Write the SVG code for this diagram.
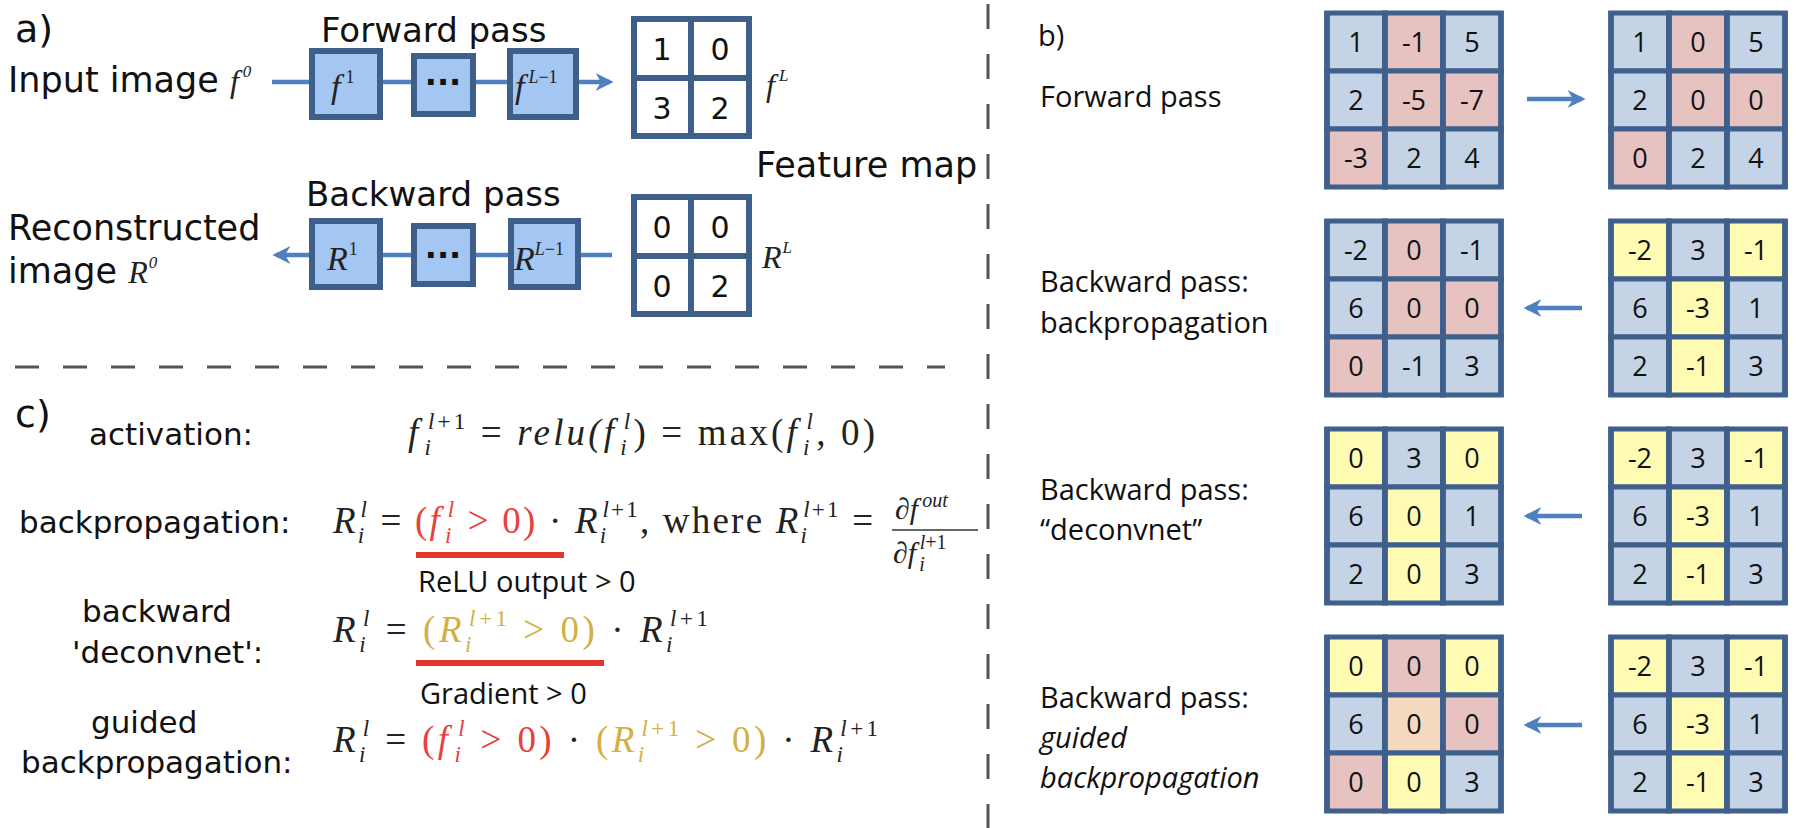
<svg xmlns="http://www.w3.org/2000/svg" width="1796" height="828" viewBox="0 0 1796 828">
<style>
.lbl{font-family:"DejaVu Sans",sans-serif;fill:#111}
.bl{font-family:"Open Sans","Liberation Sans",sans-serif;fill:#111;font-size:29px}
.m{font-family:"Liberation Serif",serif;font-style:italic;fill:#222}
.mr{font-family:"Liberation Serif",serif;font-style:normal}
.box{fill:#a3c6f3;stroke:#3e5f8a;stroke-width:6}
.grid{fill:#fff;stroke:#3e5f8a;stroke-width:6}
.num{font-family:"DejaVu Sans",sans-serif;font-size:30px;text-anchor:middle;fill:#111}
.cb{fill:#c4d4e6}.cr{fill:#e6c2c1}.cy{fill:#fffbb3}.co{fill:#f5d8c0}
.cell{stroke:#3f5f8c;stroke-width:5}
.cn{font-family:"Open Sans","Liberation Sans",sans-serif;font-size:27px;text-anchor:middle;fill:#111}
.conn{stroke:#4f7fbf;stroke-width:4.5;fill:none}
.dash{stroke:#555;stroke-width:3;fill:none}
.red{fill:#e8403a}.gold{fill:#d2b043}
</style>
<defs>
<marker id="ah" viewBox="0 0 10 10" refX="8" refY="5" markerWidth="4" markerHeight="4" orient="auto-start-reverse"><path d="M0,0 L10,5 L0,10 L3,5 Z" fill="#4f7fbf"/></marker>
</defs>
<g id="dividers">
<line class="dash" x1="15" y1="367" x2="945" y2="367" stroke-dasharray="24,24"/>
<line class="dash" x1="988" y1="4" x2="988" y2="828" stroke-dasharray="25,25"/>
</g>
<g id="connectors">
<line class="conn" x1="272" y1="82" x2="610" y2="82" marker-end="url(#ah)"/>
<line class="conn" x1="276" y1="255" x2="612" y2="255" marker-start="url(#ah)"/>
<line class="conn" x1="1527" y1="99" x2="1582" y2="99" marker-end="url(#ah)"/>
<line class="conn" x1="1527" y1="308" x2="1582" y2="308" marker-start="url(#ah)"/>
<line class="conn" x1="1527" y1="516" x2="1582" y2="516" marker-start="url(#ah)"/>
<line class="conn" x1="1527" y1="725" x2="1582" y2="725" marker-start="url(#ah)"/>
</g>
<g id="panel-a">
<text class="lbl" x="15" y="42" font-size="38">a)</text>
<text class="lbl" x="321" y="42" font-size="34">Forward pass</text>
<text class="lbl" x="8" y="92" font-size="35">Input image <tspan class="m" font-size="32">f</tspan><tspan class="m" font-size="17" dx="4" dy="-15">0</tspan></text>
<g id="f1"><rect class="box" x="312" y="51" width="68" height="66"/><text class="m" x="331" y="98" font-size="34">f<tspan font-size="18" dx="5" dy="-15" class="mr">1</tspan></text></g>
<g id="fdots"><rect class="box" x="414" y="56" width="59" height="58"/><text class="lbl" x="443" y="93" font-size="32" text-anchor="middle" font-weight="bold">···</text></g>
<g id="fL1"><rect class="box" x="510" y="51" width="66" height="66"/><text class="m" x="515" y="98" font-size="34">f<tspan font-size="18" dx="4" dy="-15">L</tspan><tspan class="mr" font-size="18">−1</tspan></text></g>
<g id="fL"><rect class="grid" x="634" y="19" width="115" height="117"/><line class="grid" x1="691" y1="19" x2="691" y2="136"/><line class="grid" x1="634" y1="78" x2="749" y2="78"/>
<text class="num" x="662" y="60">1</text><text class="num" x="720" y="60">0</text><text class="num" x="662" y="119">3</text><text class="num" x="720" y="119">2</text></g>
<text class="m" x="766" y="96" font-size="32">f<tspan font-size="17" dx="4" dy="-15">L</tspan></text>
<text class="lbl" x="756" y="177" font-size="35">Feature map</text>
<text class="lbl" x="306" y="206" font-size="34">Backward pass</text>
<text class="lbl" x="8" y="240" font-size="35">Reconstructed</text>
<text class="lbl" x="8" y="283" font-size="35">image <tspan class="m" font-size="32">R</tspan><tspan class="m" font-size="17" dx="1" dy="-15">0</tspan></text>
<g id="R1"><rect class="box" x="312" y="221" width="68" height="66"/><text class="m" x="327" y="270" font-size="34">R<tspan font-size="18" dx="1" dy="-15" class="mr">1</tspan></text></g>
<g id="Rdots"><rect class="box" x="414" y="226" width="59" height="58"/><text class="lbl" x="443" y="266" font-size="32" text-anchor="middle" font-weight="bold">···</text></g>
<g id="RL1"><rect class="box" x="511" y="221" width="67" height="66"/><text class="m" x="514" y="270" font-size="34">R<tspan font-size="18" dy="-15">L</tspan><tspan class="mr" font-size="18">−1</tspan></text></g>
<g id="RL"><rect class="grid" x="634" y="197" width="115" height="117"/><line class="grid" x1="691" y1="197" x2="691" y2="314"/><line class="grid" x1="634" y1="256" x2="749" y2="256"/>
<text class="num" x="662" y="238">0</text><text class="num" x="720" y="238">0</text><text class="num" x="662" y="297">0</text><text class="num" x="720" y="297">2</text></g>
<text class="m" x="762" y="268" font-size="32">R<tspan font-size="17" dx="1" dy="-15">L</tspan></text>
</g>
<g id="panel-c">
<text class="lbl" x="15" y="427" font-size="38">c)</text>
<text class="lbl" x="89" y="445" font-size="31">activation:</text>
<text class="m" x="408" y="445" font-size="37" textLength="467" lengthAdjust="spacing">f<tspan font-size="23" dx="3" dy="10">i</tspan><tspan font-size="23" dx="-6" dy="-26">l</tspan><tspan class="mr" font-size="23">+1</tspan><tspan class="mr" dy="16"> = </tspan>relu(f<tspan font-size="23" dx="3" dy="10">i</tspan><tspan font-size="23" dx="-6" dy="-26">l</tspan><tspan class="mr" dy="16">) = max(</tspan>f<tspan font-size="23" dx="3" dy="10">i</tspan><tspan font-size="23" dx="-6" dy="-26">l</tspan><tspan class="mr" dy="16">, 0)</tspan></text>
<text class="lbl" x="19" y="533" font-size="31">backpropagation:</text>
<text class="m" x="333" y="533" font-size="37" textLength="540" lengthAdjust="spacing">R<tspan font-size="23" dy="10">i</tspan><tspan font-size="23" dx="-6" dy="-26">l</tspan><tspan class="mr" dy="16"> = </tspan><tspan class="red"><tspan class="mr">(</tspan>f<tspan font-size="23" dx="3" dy="10">i</tspan><tspan font-size="23" dx="-6" dy="-26">l</tspan><tspan class="mr" dy="16"> &gt; 0)</tspan></tspan><tspan class="mr"> · </tspan>R<tspan font-size="23" dy="10">i</tspan><tspan font-size="23" dx="-6" dy="-26">l</tspan><tspan class="mr" font-size="23">+1</tspan><tspan class="mr" dy="16">, where </tspan>R<tspan font-size="23" dy="10">i</tspan><tspan font-size="23" dx="-6" dy="-26">l</tspan><tspan class="mr" font-size="23">+1</tspan><tspan class="mr" dy="16"> =</tspan></text>
<text class="m" x="895" y="519" font-size="30">∂f<tspan font-size="20" dx="4" dy="-12">out</tspan></text>
<line x1="892" y1="530" x2="978" y2="530" stroke="#333" stroke-width="1.6"/>
<text class="m" x="893" y="563" font-size="30">∂f<tspan font-size="20" dx="3" dy="8">i</tspan><tspan font-size="20" dx="-5" dy="-22">l</tspan><tspan class="mr" font-size="20">+1</tspan></text>
<rect x="416" y="552" width="148" height="6" fill="#e4362a"/>
<text class="bl" x="418" y="592" font-size="36">ReLU output &gt; 0</text>
<text class="lbl" x="82" y="622" font-size="31">backward</text>
<text class="lbl" x="72" y="663" font-size="31">'deconvnet':</text>
<text class="m" x="333" y="642" font-size="37" textLength="375" lengthAdjust="spacing">R<tspan font-size="23" dy="10">i</tspan><tspan font-size="23" dx="-6" dy="-26">l</tspan><tspan class="mr" dy="16"> = </tspan><tspan class="gold"><tspan class="mr">(</tspan>R<tspan font-size="23" dy="10">i</tspan><tspan font-size="23" dx="-6" dy="-26">l</tspan><tspan class="mr" font-size="23">+1</tspan><tspan class="mr" dy="16"> &gt; 0)</tspan></tspan><tspan class="mr"> · </tspan>R<tspan font-size="23" dy="10">i</tspan><tspan font-size="23" dx="-6" dy="-26">l</tspan><tspan class="mr" font-size="23">+1</tspan></text>
<rect x="416" y="660" width="188" height="6" fill="#e4362a"/>
<text class="bl" x="420" y="704" font-size="36">Gradient &gt; 0</text>
<text class="lbl" x="91" y="733" font-size="31">guided</text>
<text class="lbl" x="21" y="773" font-size="31">backpropagation:</text>
<text class="m" x="333" y="752" font-size="37" textLength="545" lengthAdjust="spacing">R<tspan font-size="23" dy="10">i</tspan><tspan font-size="23" dx="-6" dy="-26">l</tspan><tspan class="mr" dy="16"> = </tspan><tspan class="red"><tspan class="mr">(</tspan>f<tspan font-size="23" dx="3" dy="10">i</tspan><tspan font-size="23" dx="-6" dy="-26">l</tspan><tspan class="mr" dy="16"> &gt; 0)</tspan></tspan><tspan class="mr"> · </tspan><tspan class="gold"><tspan class="mr">(</tspan>R<tspan font-size="23" dy="10">i</tspan><tspan font-size="23" dx="-6" dy="-26">l</tspan><tspan class="mr" font-size="23">+1</tspan><tspan class="mr" dy="16"> &gt; 0)</tspan></tspan><tspan class="mr"> · </tspan>R<tspan font-size="23" dy="10">i</tspan><tspan font-size="23" dx="-6" dy="-26">l</tspan><tspan class="mr" font-size="23">+1</tspan></text>
</g>
<g id="panel-b">
<text class="bl" x="1038" y="46" font-size="35">b)</text>
<text class="bl" x="1040" y="107">Forward pass</text>
<text class="bl" x="1040" y="292">Backward pass:</text>
<text class="bl" x="1040" y="333">backpropagation</text>
<text class="bl" x="1040" y="500">Backward pass:</text>
<text class="bl" x="1040" y="540">“deconvnet”</text>
<text class="bl" x="1040" y="708">Backward pass:</text>
<text class="bl" x="1040" y="748" font-style="italic">guided</text>
<text class="bl" x="1040" y="788" font-style="italic">backpropagation</text>
</g>
<g id="grid-fwd-in" transform="translate(1327,13) scale(1.16,1)">
<rect class="cell cb" x="0" y="0" width="50" height="58"/><rect class="cell cr" x="50" y="0" width="50" height="58"/><rect class="cell cb" x="100" y="0" width="50" height="58"/>
<rect class="cell cb" x="0" y="58" width="50" height="58"/><rect class="cell cr" x="50" y="58" width="50" height="58"/><rect class="cell cr" x="100" y="58" width="50" height="58"/>
<rect class="cell cr" x="0" y="116" width="50" height="58"/><rect class="cell cb" x="50" y="116" width="50" height="58"/><rect class="cell cb" x="100" y="116" width="50" height="58"/>
</g>
<g id="grid-fwd-in-t" transform="translate(1327,13)">
<text class="cn" x="29" y="39">1</text><text class="cn" x="87" y="39">-1</text><text class="cn" x="145" y="39">5</text>
<text class="cn" x="29" y="97">2</text><text class="cn" x="87" y="97">-5</text><text class="cn" x="145" y="97">-7</text>
<text class="cn" x="29" y="155">-3</text><text class="cn" x="87" y="155">2</text><text class="cn" x="145" y="155">4</text>
</g>
<g id="grid-fwd-out" transform="translate(1611,13) scale(1.16,1)">
<rect class="cell cb" x="0" y="0" width="50" height="58"/><rect class="cell cr" x="50" y="0" width="50" height="58"/><rect class="cell cb" x="100" y="0" width="50" height="58"/>
<rect class="cell cb" x="0" y="58" width="50" height="58"/><rect class="cell cr" x="50" y="58" width="50" height="58"/><rect class="cell cr" x="100" y="58" width="50" height="58"/>
<rect class="cell cr" x="0" y="116" width="50" height="58"/><rect class="cell cb" x="50" y="116" width="50" height="58"/><rect class="cell cb" x="100" y="116" width="50" height="58"/>
</g>
<g id="grid-fwd-out-t" transform="translate(1611,13)">
<text class="cn" x="29" y="39">1</text><text class="cn" x="87" y="39">0</text><text class="cn" x="145" y="39">5</text>
<text class="cn" x="29" y="97">2</text><text class="cn" x="87" y="97">0</text><text class="cn" x="145" y="97">0</text>
<text class="cn" x="29" y="155">0</text><text class="cn" x="87" y="155">2</text><text class="cn" x="145" y="155">4</text>
</g>
<g id="grid-bp-out" transform="translate(1327,221) scale(1.16,1)">
<rect class="cell cb" x="0" y="0" width="50" height="58"/><rect class="cell cr" x="50" y="0" width="50" height="58"/><rect class="cell cb" x="100" y="0" width="50" height="58"/>
<rect class="cell cb" x="0" y="58" width="50" height="58"/><rect class="cell cr" x="50" y="58" width="50" height="58"/><rect class="cell cr" x="100" y="58" width="50" height="58"/>
<rect class="cell cr" x="0" y="116" width="50" height="58"/><rect class="cell cb" x="50" y="116" width="50" height="58"/><rect class="cell cb" x="100" y="116" width="50" height="58"/>
</g>
<g id="grid-bp-out-t" transform="translate(1327,221)">
<text class="cn" x="29" y="39">-2</text><text class="cn" x="87" y="39">0</text><text class="cn" x="145" y="39">-1</text>
<text class="cn" x="29" y="97">6</text><text class="cn" x="87" y="97">0</text><text class="cn" x="145" y="97">0</text>
<text class="cn" x="29" y="155">0</text><text class="cn" x="87" y="155">-1</text><text class="cn" x="145" y="155">3</text>
</g>
<g id="grid-bp-in" transform="translate(1611,221) scale(1.16,1)">
<rect class="cell cy" x="0" y="0" width="50" height="58"/><rect class="cell cb" x="50" y="0" width="50" height="58"/><rect class="cell cy" x="100" y="0" width="50" height="58"/>
<rect class="cell cb" x="0" y="58" width="50" height="58"/><rect class="cell cy" x="50" y="58" width="50" height="58"/><rect class="cell cb" x="100" y="58" width="50" height="58"/>
<rect class="cell cb" x="0" y="116" width="50" height="58"/><rect class="cell cy" x="50" y="116" width="50" height="58"/><rect class="cell cb" x="100" y="116" width="50" height="58"/>
</g>
<g id="grid-bp-in-t" transform="translate(1611,221)">
<text class="cn" x="29" y="39">-2</text><text class="cn" x="87" y="39">3</text><text class="cn" x="145" y="39">-1</text>
<text class="cn" x="29" y="97">6</text><text class="cn" x="87" y="97">-3</text><text class="cn" x="145" y="97">1</text>
<text class="cn" x="29" y="155">2</text><text class="cn" x="87" y="155">-1</text><text class="cn" x="145" y="155">3</text>
</g>
<g id="grid-dc-out" transform="translate(1327,429) scale(1.16,1)">
<rect class="cell cy" x="0" y="0" width="50" height="58"/><rect class="cell cb" x="50" y="0" width="50" height="58"/><rect class="cell cy" x="100" y="0" width="50" height="58"/>
<rect class="cell cb" x="0" y="58" width="50" height="58"/><rect class="cell cy" x="50" y="58" width="50" height="58"/><rect class="cell cb" x="100" y="58" width="50" height="58"/>
<rect class="cell cb" x="0" y="116" width="50" height="58"/><rect class="cell cy" x="50" y="116" width="50" height="58"/><rect class="cell cb" x="100" y="116" width="50" height="58"/>
</g>
<g id="grid-dc-out-t" transform="translate(1327,429)">
<text class="cn" x="29" y="39">0</text><text class="cn" x="87" y="39">3</text><text class="cn" x="145" y="39">0</text>
<text class="cn" x="29" y="97">6</text><text class="cn" x="87" y="97">0</text><text class="cn" x="145" y="97">1</text>
<text class="cn" x="29" y="155">2</text><text class="cn" x="87" y="155">0</text><text class="cn" x="145" y="155">3</text>
</g>
<g id="grid-dc-in" transform="translate(1611,429) scale(1.16,1)">
<rect class="cell cy" x="0" y="0" width="50" height="58"/><rect class="cell cb" x="50" y="0" width="50" height="58"/><rect class="cell cy" x="100" y="0" width="50" height="58"/>
<rect class="cell cb" x="0" y="58" width="50" height="58"/><rect class="cell cy" x="50" y="58" width="50" height="58"/><rect class="cell cb" x="100" y="58" width="50" height="58"/>
<rect class="cell cb" x="0" y="116" width="50" height="58"/><rect class="cell cy" x="50" y="116" width="50" height="58"/><rect class="cell cb" x="100" y="116" width="50" height="58"/>
</g>
<g id="grid-dc-in-t" transform="translate(1611,429)">
<text class="cn" x="29" y="39">-2</text><text class="cn" x="87" y="39">3</text><text class="cn" x="145" y="39">-1</text>
<text class="cn" x="29" y="97">6</text><text class="cn" x="87" y="97">-3</text><text class="cn" x="145" y="97">1</text>
<text class="cn" x="29" y="155">2</text><text class="cn" x="87" y="155">-1</text><text class="cn" x="145" y="155">3</text>
</g>
<g id="grid-gb-out" transform="translate(1327,637) scale(1.16,1)">
<rect class="cell cy" x="0" y="0" width="50" height="58"/><rect class="cell cr" x="50" y="0" width="50" height="58"/><rect class="cell cy" x="100" y="0" width="50" height="58"/>
<rect class="cell cb" x="0" y="58" width="50" height="58"/><rect class="cell co" x="50" y="58" width="50" height="58"/><rect class="cell cr" x="100" y="58" width="50" height="58"/>
<rect class="cell cr" x="0" y="116" width="50" height="58"/><rect class="cell cy" x="50" y="116" width="50" height="58"/><rect class="cell cb" x="100" y="116" width="50" height="58"/>
</g>
<g id="grid-gb-out-t" transform="translate(1327,637)">
<text class="cn" x="29" y="39">0</text><text class="cn" x="87" y="39">0</text><text class="cn" x="145" y="39">0</text>
<text class="cn" x="29" y="97">6</text><text class="cn" x="87" y="97">0</text><text class="cn" x="145" y="97">0</text>
<text class="cn" x="29" y="155">0</text><text class="cn" x="87" y="155">0</text><text class="cn" x="145" y="155">3</text>
</g>
<g id="grid-gb-in" transform="translate(1611,637) scale(1.16,1)">
<rect class="cell cy" x="0" y="0" width="50" height="58"/><rect class="cell cb" x="50" y="0" width="50" height="58"/><rect class="cell cy" x="100" y="0" width="50" height="58"/>
<rect class="cell cb" x="0" y="58" width="50" height="58"/><rect class="cell cy" x="50" y="58" width="50" height="58"/><rect class="cell cb" x="100" y="58" width="50" height="58"/>
<rect class="cell cb" x="0" y="116" width="50" height="58"/><rect class="cell cy" x="50" y="116" width="50" height="58"/><rect class="cell cb" x="100" y="116" width="50" height="58"/>
</g>
<g id="grid-gb-in-t" transform="translate(1611,637)">
<text class="cn" x="29" y="39">-2</text><text class="cn" x="87" y="39">3</text><text class="cn" x="145" y="39">-1</text>
<text class="cn" x="29" y="97">6</text><text class="cn" x="87" y="97">-3</text><text class="cn" x="145" y="97">1</text>
<text class="cn" x="29" y="155">2</text><text class="cn" x="87" y="155">-1</text><text class="cn" x="145" y="155">3</text>
</g>
</svg>
